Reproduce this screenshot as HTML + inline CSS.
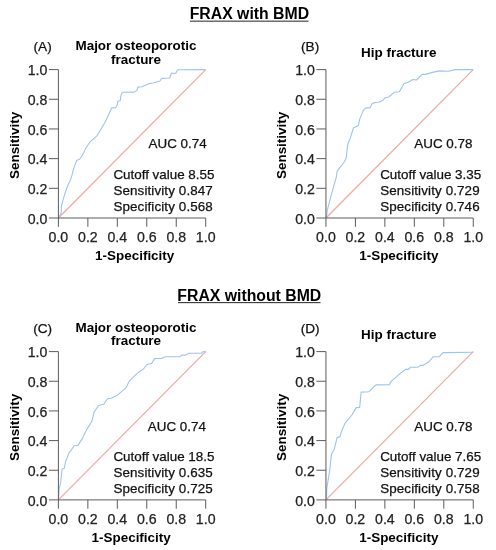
<!DOCTYPE html>
<html><head><meta charset="utf-8"><title>FRAX ROC</title>
<style>
html,body{margin:0;padding:0;background:#fff;}
svg{display:block;font-family:"Liberation Sans",Arial,sans-serif;}
.ax{stroke:#5c5c5c;stroke-width:1;fill:none;}
.t{font-size:14.15px;fill:#222;stroke:#222;stroke-width:0.25px;}
.a{font-size:13.4px;fill:#111;stroke:#111;stroke-width:0.25px;}
.l{font-size:13.6px;fill:#111;stroke:#111;stroke-width:0.25px;}
.b{font-size:13.45px;font-weight:bold;fill:#000;}
.h{font-size:15.8px;font-weight:bold;fill:#000;}
.roc{stroke:#9dc3f3;stroke-width:1.1;fill:none;stroke-linejoin:round;}
.dg{stroke:#f1aaa3;stroke-width:1.3;fill:none;}
</style></head><body>
<svg width="496" height="550" viewBox="0 0 496 550">
<rect width="496" height="550" fill="#fff"/>

<text class="h" x="249.4" y="18.7" text-anchor="middle">FRAX with BMD</text>
<line x1="190" x2="308.5" y1="21.15" y2="21.15" stroke="#222" stroke-width="1"/>
<text class="h" x="249.3" y="301.0" text-anchor="middle">FRAX without BMD</text>
<line x1="178" x2="320.5" y1="302.65" y2="302.65" stroke="#222" stroke-width="1"/>
<g>
<text class="t" x="47.4" y="223.60" text-anchor="end">0.0</text>
<text class="t" x="58.40" y="242.3" text-anchor="middle">0.0</text>
<text class="t" x="47.4" y="193.92" text-anchor="end">0.2</text>
<text class="t" x="87.86" y="242.3" text-anchor="middle">0.2</text>
<text class="t" x="47.4" y="164.24" text-anchor="end">0.4</text>
<text class="t" x="117.32" y="242.3" text-anchor="middle">0.4</text>
<text class="t" x="47.4" y="134.56" text-anchor="end">0.6</text>
<text class="t" x="146.78" y="242.3" text-anchor="middle">0.6</text>
<text class="t" x="47.4" y="104.88" text-anchor="end">0.8</text>
<text class="t" x="176.24" y="242.3" text-anchor="middle">0.8</text>
<text class="t" x="47.4" y="75.20" text-anchor="end">1.0</text>
<text class="t" x="205.70" y="242.3" text-anchor="middle">1.0</text>
<path class="dg" d="M58.4 218.0L205.7 69.6"/>
<path class="roc" d="M58.4 218.0L60.4 214.4L61.2 212.6L61.4 206.0L62.8 200.8L64.9 193.7L66.3 189.5L68.4 183.9L69.8 181.8L71.9 175.4L73.3 169.8L75.5 163.4L76.9 160.2L79.7 159.2L81.8 156.0L83.9 152.4L85.6 148.5L89.8 142.2L96.9 135.8L100.4 130.2L105.3 121.7L108.9 113.9L111.7 107.9L115.9 107.6L117.3 104.8L117.8 101.2L120.2 100.8L120.9 95.6L122.3 92.3L134.3 92.1L136.8 90.4L137.8 87.1L141.8 86.8L149.4 83.4L153.1 83.0L160.0 81.0L161.5 78.4L169.8 78.0L171.3 73.4L175.8 73.1L177.8 69.8L205.7 69.6"/>
<path class="ax" d="M58.4 69.6V218.0H205.7M48.9 218.00H58.4M58.40 218.0V226.8M48.9 188.32H58.4M87.86 218.0V226.8M48.9 158.64H58.4M117.32 218.0V226.8M48.9 128.96H58.4M146.78 218.0V226.8M48.9 99.28H58.4M176.24 218.0V226.8M48.9 69.60H58.4M205.70 218.0V226.8"/>
<text class="l" x="42.6" y="51.0" text-anchor="middle">(A)</text>
<text class="b" x="135.95" y="50.4" text-anchor="middle">Major osteoporotic</text>
<text class="b" x="136.05" y="63.9" text-anchor="middle">fracture</text>
<text class="b" x="134.70" y="260.0" text-anchor="middle">1-Specificity</text>
<text class="b" transform="translate(18.5 145.4) rotate(-90)" text-anchor="middle">Sensitivity</text>
<text class="a" x="148.6" y="147.7">AUC 0.74</text>
<text class="a" x="113.4" y="178.8">Cutoff value 8.55</text>
<text class="a" letter-spacing="0.12" x="113.4" y="194.9">Sensitivity 0.847</text>
<text class="a" letter-spacing="0.12" x="113.4" y="210.5">Specificity 0.568</text>
</g>
<g>
<text class="t" x="314.9" y="223.60" text-anchor="end">0.0</text>
<text class="t" x="325.95" y="242.3" text-anchor="middle">0.0</text>
<text class="t" x="314.9" y="193.92" text-anchor="end">0.2</text>
<text class="t" x="355.41" y="242.3" text-anchor="middle">0.2</text>
<text class="t" x="314.9" y="164.24" text-anchor="end">0.4</text>
<text class="t" x="384.87" y="242.3" text-anchor="middle">0.4</text>
<text class="t" x="314.9" y="134.56" text-anchor="end">0.6</text>
<text class="t" x="414.33" y="242.3" text-anchor="middle">0.6</text>
<text class="t" x="314.9" y="104.88" text-anchor="end">0.8</text>
<text class="t" x="443.79" y="242.3" text-anchor="middle">0.8</text>
<text class="t" x="314.9" y="75.20" text-anchor="end">1.0</text>
<text class="t" x="473.25" y="242.3" text-anchor="middle">1.0</text>
<path class="dg" d="M325.95 218.0L473.2 69.6"/>
<path class="roc" d="M326.5 217.5L327.2 210.7L330.1 199.4L333.6 186.7L336.4 176.8L337.1 171.2L339.9 167.6L344.2 162.0L346.3 157.8L346.7 152.8L347.0 150.0L347.8 144.3L350.6 137.2L353.4 128.0L358.3 125.6L359.8 118.9L363.3 110.4L366.1 107.9L370.3 107.6L371.8 104.1L374.6 102.6L378.8 102.2L383.0 100.2L385.2 97.7L388.7 97.0L394.3 92.3L399.3 91.8L402.1 87.1L403.8 83.7L408.3 82.2L412.9 79.5L416.6 80.0L421.9 74.4L425.7 74.4L432.5 72.4L439.3 70.9L448.4 71.2L455.2 69.6L473.2 69.6"/>
<path class="ax" d="M325.95 69.6V218.0H473.2M316.4 218.00H325.95M325.95 218.0V226.8M316.4 188.32H325.95M355.41 218.0V226.8M316.4 158.64H325.95M384.87 218.0V226.8M316.4 128.96H325.95M414.33 218.0V226.8M316.4 99.28H325.95M443.79 218.0V226.8M316.4 69.60H325.95M473.25 218.0V226.8"/>
<text class="l" x="310.1" y="51.0" text-anchor="middle">(B)</text>
<text class="b" x="398.80" y="56.5" text-anchor="middle">Hip fracture</text>
<text class="b" x="398.85" y="260.0" text-anchor="middle">1-Specificity</text>
<text class="b" transform="translate(286.1 145.4) rotate(-90)" text-anchor="middle">Sensitivity</text>
<text class="a" x="414.3" y="147.9">AUC 0.78</text>
<text class="a" x="380.2" y="178.8">Cutoff value 3.35</text>
<text class="a" letter-spacing="0.12" x="380.2" y="194.9">Sensitivity 0.729</text>
<text class="a" letter-spacing="0.12" x="380.2" y="210.5">Specificity 0.746</text>
</g>
<g>
<text class="t" x="47.4" y="505.50" text-anchor="end">0.0</text>
<text class="t" x="58.40" y="524.2" text-anchor="middle">0.0</text>
<text class="t" x="47.4" y="475.84" text-anchor="end">0.2</text>
<text class="t" x="87.86" y="524.2" text-anchor="middle">0.2</text>
<text class="t" x="47.4" y="446.18" text-anchor="end">0.4</text>
<text class="t" x="117.32" y="524.2" text-anchor="middle">0.4</text>
<text class="t" x="47.4" y="416.52" text-anchor="end">0.6</text>
<text class="t" x="146.78" y="524.2" text-anchor="middle">0.6</text>
<text class="t" x="47.4" y="386.86" text-anchor="end">0.8</text>
<text class="t" x="176.24" y="524.2" text-anchor="middle">0.8</text>
<text class="t" x="47.4" y="357.20" text-anchor="end">1.0</text>
<text class="t" x="205.70" y="524.2" text-anchor="middle">1.0</text>
<path class="dg" d="M58.4 499.9L205.7 351.6"/>
<path class="roc" d="M58.5 500.0L59.2 488.4L60.6 482.8L62.1 469.0L64.2 468.4L65.6 461.6L69.1 452.5L71.2 450.3L74.1 445.8L77.6 445.8L79.7 442.6L82.5 438.4L84.2 434.4L87.0 429.1L91.9 421.3L94.0 412.2L98.3 405.8L103.9 404.0L107.5 398.8L111.0 398.3L117.3 395.2L125.8 388.2L129.3 381.1L134.3 376.2L139.9 371.2L143.3 369.1L147.1 364.5L151.6 363.5L154.7 358.6L161.5 358.5L165.2 356.7L179.6 356.7L181.9 355.1L185.7 355.1L188.7 353.2L201.5 353.3L203.0 351.7L205.7 351.6"/>
<path class="ax" d="M58.4 351.6V499.9H205.7M48.9 499.90H58.4M58.40 499.9V508.7M48.9 470.24H58.4M87.86 499.9V508.7M48.9 440.58H58.4M117.32 499.9V508.7M48.9 410.92H58.4M146.78 499.9V508.7M48.9 381.26H58.4M176.24 499.9V508.7M48.9 351.60H58.4M205.70 499.9V508.7"/>
<text class="l" x="42.6" y="333.0" text-anchor="middle">(C)</text>
<text class="b" x="135.95" y="331.6" text-anchor="middle">Major osteoporotic</text>
<text class="b" x="136.05" y="345.0" text-anchor="middle">fracture</text>
<text class="b" x="131.15" y="541.9" text-anchor="middle">1-Specificity</text>
<text class="b" transform="translate(18.5 427.4) rotate(-90)" text-anchor="middle">Sensitivity</text>
<text class="a" x="147.8" y="430.5">AUC 0.74</text>
<text class="a" x="113.4" y="460.9">Cutoff value 18.5</text>
<text class="a" letter-spacing="0.12" x="113.4" y="477.0">Sensitivity 0.635</text>
<text class="a" letter-spacing="0.12" x="113.4" y="492.6">Specificity 0.725</text>
</g>
<g>
<text class="t" x="314.9" y="505.50" text-anchor="end">0.0</text>
<text class="t" x="325.95" y="524.2" text-anchor="middle">0.0</text>
<text class="t" x="314.9" y="475.84" text-anchor="end">0.2</text>
<text class="t" x="355.41" y="524.2" text-anchor="middle">0.2</text>
<text class="t" x="314.9" y="446.18" text-anchor="end">0.4</text>
<text class="t" x="384.87" y="524.2" text-anchor="middle">0.4</text>
<text class="t" x="314.9" y="416.52" text-anchor="end">0.6</text>
<text class="t" x="414.33" y="524.2" text-anchor="middle">0.6</text>
<text class="t" x="314.9" y="386.86" text-anchor="end">0.8</text>
<text class="t" x="443.79" y="524.2" text-anchor="middle">0.8</text>
<text class="t" x="314.9" y="357.20" text-anchor="end">1.0</text>
<text class="t" x="473.25" y="524.2" text-anchor="middle">1.0</text>
<path class="dg" d="M325.95 499.9L473.2 351.6"/>
<path class="roc" d="M326.5 500.0L326.8 488.4L328.6 477.2L330.1 467.3L331.5 453.9L334.3 448.9L337.1 437.6L339.9 436.9L341.3 432.0L344.9 423.4L351.9 415.0L356.2 407.6L359.7 407.4L361.1 392.1L368.9 391.7L375.9 384.9L389.3 384.6L391.4 381.1L399.2 374.3L406.0 369.1L408.3 369.5L410.6 367.2L418.1 367.2L420.4 365.3L422.7 365.4L428.7 362.0L433.3 356.7L439.3 356.7L443.1 352.6L473.2 352.3"/>
<path class="ax" d="M325.95 351.6V499.9H473.2M316.4 499.90H325.95M325.95 499.9V508.7M316.4 470.24H325.95M355.41 499.9V508.7M316.4 440.58H325.95M384.87 499.9V508.7M316.4 410.92H325.95M414.33 499.9V508.7M316.4 381.26H325.95M443.79 499.9V508.7M316.4 351.60H325.95M473.25 499.9V508.7"/>
<text class="l" x="310.1" y="333.0" text-anchor="middle">(D)</text>
<text class="b" x="398.80" y="338.5" text-anchor="middle">Hip fracture</text>
<text class="b" x="398.85" y="541.9" text-anchor="middle">1-Specificity</text>
<text class="b" transform="translate(286.1 427.4) rotate(-90)" text-anchor="middle">Sensitivity</text>
<text class="a" x="414.3" y="430.9">AUC 0.78</text>
<text class="a" x="380.2" y="461.2">Cutoff value 7.65</text>
<text class="a" letter-spacing="0.12" x="380.2" y="477.3">Sensitivity 0.729</text>
<text class="a" letter-spacing="0.12" x="380.2" y="492.9">Specificity 0.758</text>
</g>
</svg></body></html>
